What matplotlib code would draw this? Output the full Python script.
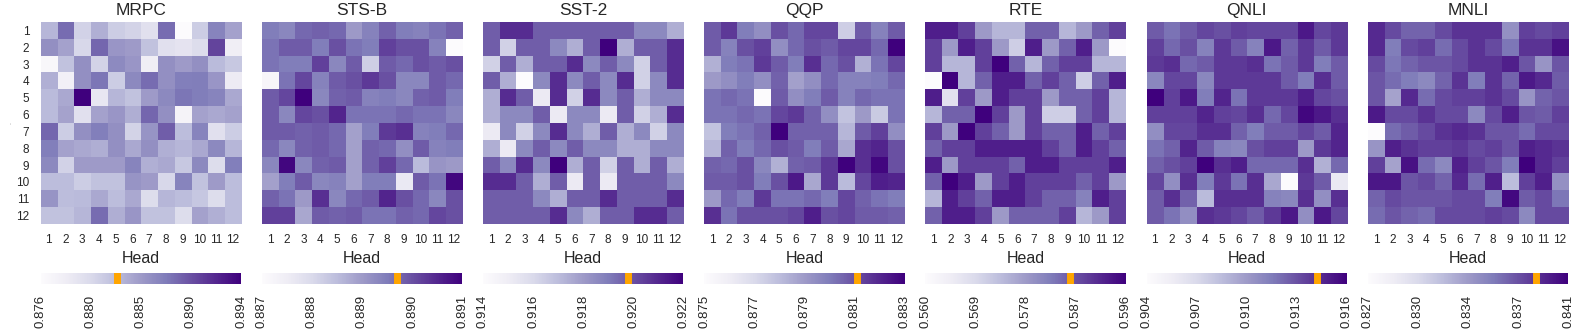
import matplotlib
matplotlib.use("Agg")
import matplotlib.pyplot as plt
import numpy as np

plt.rcParams['font.family'] = ['Liberation Sans', 'DejaVu Sans']

# Task names (panel titles)
tasks = ['MRPC', 'STS-B', 'SST-2', 'QQP', 'RTE', 'QNLI', 'MNLI']
heads = [str(i) for i in range(1, 13)]
layers = [str(i) for i in range(1, 13)]

# Score after pruning each (layer, head); rows = layer 1..12, cols = head 1..12
mrpc = [
    [.8832, .8882, .8810, .8836, .8814, .8809, .8796, .8882, .8757, .8814, .8868, .8846],
    [.8859, .8846, .8805, .8886, .8854, .8850, .8823, .8796, .8792, .8800, .8904, .8778],
    [.8764, .8823, .8859, .8809, .8863, .8854, .8778, .8859, .8850, .8859, .8828, .8818],
    [.8836, .8774, .8859, .8877, .8814, .8864, .8882, .8859, .8872, .8873, .8854, .8782],
    [.8828, .8841, .8944, .8787, .8832, .8823, .8850, .8864, .8877, .8873, .8868, .8841],
    [.8828, .8845, .8796, .8846, .8854, .8837, .8886, .8859, .8769, .8846, .8841, .8846],
    [.8886, .8814, .8859, .8872, .8859, .8809, .8855, .8890, .8827, .8868, .8796, .8814],
    [.8872, .8846, .8841, .8837, .8859, .8841, .8859, .8836, .8832, .8841, .8864, .8832],
    [.8864, .8810, .8850, .8850, .8850, .8868, .8836, .8841, .8818, .8864, .8800, .8872],
    [.8827, .8827, .8814, .8823, .8823, .8855, .8850, .8805, .8868, .8823, .8850, .8827],
    [.8855, .8827, .8828, .8841, .8827, .8841, .8800, .8832, .8827, .8819, .8800, .8827],
    [.8823, .8823, .8832, .8882, .8837, .8854, .8823, .8823, .8800, .8846, .8836, .8827],
]
stsb = [
    [.88948, .88932, .88972, .88980, .88972, .88900, .88940, .88980, .88948, .88940, .88960, .88980],
    [.88960, .88988, .88988, .88948, .89000, .88960, .88948, .89020, .89000, .89000, .88940, .88700],
    [.88960, .88948, .88948, .89020, .88932, .88988, .88820, .88988, .88972, .89000, .88988, .89000],
    [.88720, .88960, .89012, .88940, .88988, .89000, .89028, .89000, .88932, .88932, .88988, .88972],
    [.88988, .89012, .89100, .88932, .88980, .88988, .88940, .88948, .88932, .88980, .88988, .88948],
    [.88988, .88932, .89012, .89000, .89052, .88960, .88960, .88960, .88972, .88960, .88960, .88932],
    [.88988, .88988, .88980, .88988, .88972, .88892, .88948, .89028, .89040, .88940, .88948, .88972],
    [.88972, .88932, .88980, .88988, .88972, .88892, .88980, .88972, .88920, .88988, .88940, .88948],
    [.88932, .89092, .88932, .88980, .88988, .88892, .88980, .89020, .88972, .88852, .88908, .88900],
    [.88892, .88948, .88988, .88932, .88940, .88892, .88948, .88948, .88760, .88988, .88960, .89092],
    [.88980, .88960, .88900, .89040, .88932, .88972, .88988, .89052, .89000, .88972, .88932, .89000],
    [.89020, .89020, .88880, .88988, .88980, .88988, .88960, .88960, .88980, .88972, .89012, .89000],
]
sst2 = [
    [.91972, .92087, .92087, .91972, .91972, .91972, .91972, .91972, .91972, .91858, .91858, .91743],
    [.91972, .91628, .91972, .91972, .91858, .91743, .91972, .92202, .91743, .91972, .91972, .92087],
    [.91628, .91972, .91743, .91972, .91972, .92087, .91858, .91972, .91858, .91628, .91972, .92087],
    [.91972, .91743, .91399, .91858, .92087, .91858, .91972, .91858, .92087, .91628, .91858, .92087],
    [.91743, .92087, .91972, .91514, .92087, .91628, .92087, .91858, .91972, .91743, .91858, .91858],
    [.91743, .91858, .91858, .91972, .91514, .91858, .91858, .91514, .91972, .91628, .91743, .92087],
    [.91514, .91858, .91628, .91858, .92087, .91858, .91743, .91972, .91743, .91858, .91628, .91858],
    [.91743, .91514, .91858, .91972, .91858, .91972, .91858, .91858, .91743, .91743, .91858, .91858],
    [.91972, .91858, .92087, .91858, .92202, .91743, .91972, .91628, .91972, .91743, .91972, .91743],
    [.92087, .92087, .91972, .91743, .91972, .91514, .91972, .91514, .91972, .91972, .91972, .91858],
    [.91972, .91972, .91972, .91858, .91743, .91972, .91972, .92087, .91972, .91972, .91972, .92087],
    [.91972, .91972, .91972, .91972, .92087, .91858, .91743, .91972, .91972, .92087, .92087, .91972],
]
qqp = [
    [.88076, .88156, .87996, .87940, .88100, .88044, .88124, .88124, .87740, .88076, .87980, .88076],
    [.88076, .87980, .88100, .88140, .87940, .88044, .88100, .88076, .88124, .88124, .88044, .88300],
    [.87836, .87996, .88020, .88156, .88076, .87996, .88180, .88044, .88100, .87836, .88020, .88124],
    [.87900, .87940, .87996, .87940, .88060, .87884, .87940, .88044, .87980, .87980, .87996, .88044],
    [.88020, .88044, .88020, .87500, .88076, .87940, .87996, .88076, .87980, .88044, .88020, .88020],
    [.88020, .88020, .88044, .88020, .88124, .88156, .88060, .87940, .87780, .87900, .87756, .88020],
    [.87780, .87996, .88020, .88060, .88300, .88060, .88060, .88060, .87820, .88076, .88140, .87940],
    [.87820, .88060, .87996, .88044, .88100, .88076, .87996, .88076, .87860, .88180, .88204, .88100],
    [.88060, .88044, .88100, .87964, .87836, .88060, .88076, .88156, .88300, .88180, .88284, .88100],
    [.88076, .88076, .88100, .87996, .88100, .88236, .87860, .88156, .87804, .88124, .88220, .88204],
    [.87900, .88044, .87996, .88156, .88020, .88020, .88044, .87996, .88124, .88060, .88020, .87996],
    [.88180, .88020, .88100, .88100, .88100, .88124, .88220, .88100, .88124, .88076, .88076, .88060],
]
rte = [
    [.59206, .59206, .58845, .57762, .57401, .57401, .58484, .58484, .57401, .57762, .58484, .58845],
    [.58845, .57762, .59206, .58845, .57762, .57040, .59206, .57762, .58484, .59206, .57762, .55957],
    [.58845, .57401, .57401, .58845, .59567, .58484, .57401, .58484, .58845, .58845, .57401, .57401],
    [.55957, .59567, .57401, .58484, .59206, .59206, .58484, .58845, .58484, .57040, .58484, .59206],
    [.59206, .56679, .58845, .57762, .59206, .58845, .58845, .57762, .58484, .58484, .58845, .57401],
    [.57401, .58484, .58484, .59567, .58845, .57762, .58845, .57040, .57040, .58484, .58845, .57401],
    [.58845, .57762, .59567, .58845, .58484, .57762, .58845, .58484, .58484, .59206, .58484, .58845],
    [.58484, .58845, .58845, .59206, .59206, .59206, .59206, .58845, .58484, .59206, .58845, .58484],
    [.59206, .57762, .58845, .58845, .58845, .58484, .59206, .59206, .58845, .58845, .58845, .59206],
    [.58484, .59567, .59206, .57762, .58845, .59206, .58845, .58845, .58845, .58484, .58845, .57762],
    [.57401, .59206, .58845, .58484, .59206, .59206, .58845, .58484, .58484, .58123, .59206, .58845],
    [.58484, .59206, .59206, .58845, .57762, .58484, .58484, .58484, .58845, .57401, .57762, .58845],
]
qnli = [
    [.91264, .91180, .91264, .91336, .91300, .91360, .91336, .91336, .91336, .91504, .91336, .91384],
    [.91360, .91216, .91300, .91120, .91384, .91264, .91120, .91504, .91240, .91384, .91264, .91384],
    [.91384, .91420, .91216, .91264, .91384, .91384, .91420, .91180, .91264, .91384, .91144, .91264],
    [.91096, .91336, .91336, .91096, .91384, .91384, .91384, .91384, .91264, .91144, .91420, .91264],
    [.91600, .91360, .91504, .91144, .91456, .91180, .91384, .91384, .91384, .91480, .91336, .91300],
    [.91360, .91360, .91360, .91456, .91360, .91336, .91420, .91216, .91336, .91576, .91504, .91420],
    [.91060, .91336, .91336, .91420, .91420, .91240, .91144, .91264, .91264, .91336, .91264, .91456],
    [.91180, .91240, .91456, .91264, .91120, .91096, .91300, .91360, .91360, .91000, .91384, .91456],
    [.91240, .91300, .91360, .91600, .91420, .91480, .91216, .91216, .91216, .91420, .90904, .91216],
    [.91336, .91060, .91420, .91144, .91384, .91180, .91420, .90940, .90400, .91384, .91264, .90580],
    [.91264, .91420, .91240, .90856, .91420, .91420, .91420, .91120, .91096, .91420, .91060, .91420],
    [.91264, .91180, .91060, .91420, .91384, .91336, .91264, .91384, .91504, .91060, .91504, .91336],
]
mnli = [
    [.83890, .83750, .83652, .83652, .83750, .83848, .83848, .83848, .83428, .83792, .83750, .83792],
    [.83890, .83540, .83750, .83792, .83610, .83750, .83848, .83750, .83568, .83848, .83848, .84000],
    [.83750, .83568, .83652, .83708, .83708, .83750, .83848, .83848, .83932, .83708, .83400, .83708],
    [.83708, .83610, .83540, .83470, .83652, .83848, .83540, .83848, .83652, .83960, .83890, .83680],
    [.83708, .83330, .83890, .83610, .83750, .83792, .83792, .83848, .83750, .83400, .83652, .83708],
    [.83960, .83750, .83750, .83848, .83750, .83750, .83470, .83750, .83932, .83708, .83680, .83792],
    [.82660, .83610, .83680, .83750, .83848, .83890, .83848, .83708, .83708, .83610, .83750, .83750],
    [.83400, .83932, .83848, .83792, .83792, .83820, .83750, .83792, .83708, .83932, .83890, .83848],
    [.83792, .83330, .84000, .83610, .83470, .83932, .83792, .83708, .83540, .84080, .83890, .83792],
    [.83970, .83970, .83708, .83750, .83652, .83890, .83610, .83932, .83190, .83792, .83932, .83428],
    [.83652, .83750, .83708, .83708, .83708, .83750, .83750, .83540, .84040, .83680, .83750, .83568],
    [.83610, .83708, .83652, .83610, .83750, .83750, .83750, .83792, .83750, .83470, .83750, .83750],
]
# score of the unpruned model (orange marker on each colour bar)
baseline = [0.8828, 0.88969, 0.9198, 0.88112, 0.5856, 0.9142, 0.83852]

scores = [mrpc, stsb, sst2, qqp, rte, qnli, mnli]

W, H = 1579, 333
fig = plt.figure(figsize=(W / 100, H / 100), dpi=100)

text_col = '#262626'
x0, step, pw = 40.5, 221.2, 200.5
hm_top, hm_bot = 22, 224
cb_top, cb_bot = 273, 284

for i, (name, data) in enumerate(zip(tasks, scores)):
    arr = np.array(data)
    vmin, vmax = arr.min(), arr.max()
    left = x0 + i * step
    ax = fig.add_axes([left / W, 1 - hm_bot / H, pw / W, (hm_bot - hm_top) / H])
    im = ax.imshow(arr, cmap='Purples', vmin=vmin, vmax=vmax, aspect='auto',
                   interpolation='nearest')
    for s in ax.spines.values():
        s.set_visible(False)
    ax.set_xticks(range(12))
    ax.set_xticklabels(heads, fontsize=8.5, color=text_col)
    ax.tick_params(axis='x', length=0, pad=7)
    if i == 0:
        ax.set_yticks(range(12))
        ax.set_yticklabels(layers, fontsize=8.5, color=text_col)
        ax.tick_params(axis='y', length=0, pad=8)
        ax.set_ylabel('.', fontsize=5, color='#888888', labelpad=2)
    else:
        ax.set_yticks([])
    ax.set_title(name, fontsize=12.5, color=text_col, pad=5)
    ax.set_xlabel('Head', fontsize=11.5, color=text_col, labelpad=4)

    cax = fig.add_axes([left / W, 1 - cb_bot / H, pw / W, (cb_bot - cb_top) / H])
    cb = fig.colorbar(im, cax=cax, orientation='horizontal')
    cb.outline.set_visible(False)
    ticks = np.linspace(vmin, vmax, 5)
    cb.set_ticks(ticks)
    cb.set_ticklabels([f'{t:.3f}' for t in ticks])
    cax.tick_params(length=0, pad=8, labelsize=9.5, labelcolor=text_col,
                    labelrotation=90)
    cax.axvline(baseline[i], color='#ffa500', linewidth=5)

fig.savefig('out.png', dpi=100)
